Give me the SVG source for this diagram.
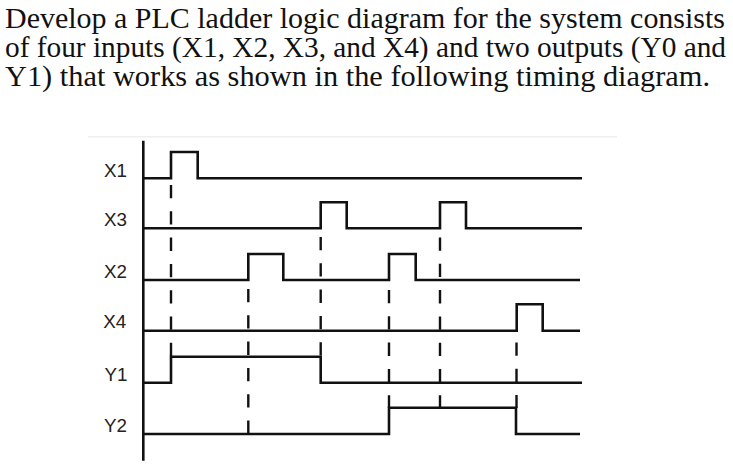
<svg xmlns="http://www.w3.org/2000/svg" width="733" height="466" viewBox="0 0 733 466">
<style>
.title{font-family:"Liberation Serif","Times New Roman",serif;font-size:29px;fill:#111}
.lbl{font-family:"Liberation Sans",Arial,sans-serif;font-size:18.8px;fill:#222}
.sig{fill:none;stroke:#111;stroke-width:2.6;stroke-linejoin:miter;stroke-linecap:butt}
.dash{fill:none;stroke:#111;stroke-width:2.4;stroke-dasharray:13.3 13}
</style>
<rect width="733" height="466" fill="#fff"/>
<g id="title">
<text class="title" x="5" y="28" textLength="720" lengthAdjust="spacingAndGlyphs">Develop a PLC ladder logic diagram for the system consists</text>
<text class="title" x="5" y="57" textLength="721" lengthAdjust="spacingAndGlyphs">of four inputs (X1, X2, X3, and X4) and two outputs (Y0 and</text>
<text class="title" x="5" y="86" textLength="705" lengthAdjust="spacingAndGlyphs">Y1) that works as shown in the following timing diagram.</text>
</g>
<line id="topline" x1="88" y1="136.7" x2="617" y2="136.7" stroke="#efefef" stroke-width="1.5"/>
<g id="labels">
<text class="lbl" x="104" y="176.7">X1</text>
<text class="lbl" x="104" y="226">X3</text>
<text class="lbl" x="104" y="277.5">X2</text>
<text class="lbl" x="103.3" y="328">X4</text>
<text class="lbl" x="104.5" y="380.5">Y1</text>
<text class="lbl" x="104" y="431.5">Y2</text>
</g>
<g id="axis">
<line class="sig" x1="143.3" y1="140.7" x2="143.3" y2="460.7"/>
</g>
<g id="signals">
<path id="X1" class="sig" d="M143.3 178.3H171V152H197.7V178.3H582"/>
<path id="X3" class="sig" d="M143.3 228.3H320.7V202.3H346.7V228.3H440V202.3H466V228.3H582"/>
<path id="X2" class="sig" d="M143.3 280H248.3V254H283.3V280H389V254H415.7V280H580"/>
<path id="X4" class="sig" d="M143.3 330.7H516.7V304.3H542.7V330.7H580"/>
<path id="Y1" class="sig" d="M143.3 382.7H171V356.7H320.7V382.7H582"/>
<path id="Y2" class="sig" d="M143.3 434H389V407.7H516V434H580"/>
</g>
<g id="connectors">
<line class="dash" x1="171" y1="185" x2="171" y2="356"/>
<line class="dash" x1="248.3" y1="289" x2="248.3" y2="434"/>
<line class="dash" x1="320.7" y1="237" x2="320.7" y2="356"/>
<line class="dash" x1="389" y1="290" x2="389" y2="408"/>
<line class="dash" x1="440" y1="237.5" x2="440" y2="408"/>
<line class="dash" x1="516.5" y1="342.5" x2="516.5" y2="408"/>
</g>
</svg>
